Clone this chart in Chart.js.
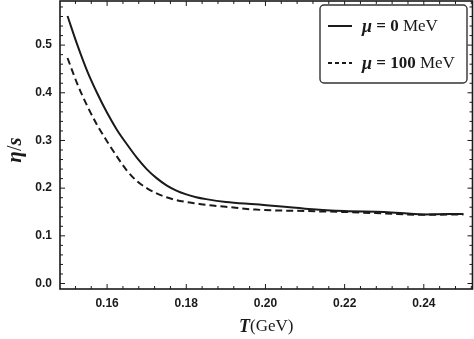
<!DOCTYPE html>
<html>
<head>
<meta charset="utf-8">
<script src="https://cdn.jsdelivr.net/npm/chart.js@4/dist/chart.umd.min.js"></script>
<style>
  html, body { margin: 0; padding: 0; background: #fff; }
  #wrap { width: 474px; height: 339px; }
</style>
</head>
<body>
<div id="wrap"><canvas id="viscosityChart" width="474" height="339"></canvas></div>
<script>
// eta/s against temperature (GeV) for the two chemical potentials
const temps = [0.150, 0.1525, 0.155, 0.1575, 0.160, 0.1625, 0.165, 0.1675, 0.170, 0.1725, 0.175, 0.1775, 0.180, 0.1825, 0.185, 0.190, 0.1975, 0.210, 0.220, 0.230, 0.240, 0.250];
const etaMu0 = [0.561, 0.500, 0.445, 0.399, 0.358, 0.322, 0.292, 0.264, 0.240, 0.221, 0.206, 0.195, 0.187, 0.181, 0.177, 0.171, 0.166, 0.157, 0.152, 0.150, 0.145, 0.146];
const etaMu100 = [0.473, 0.418, 0.372, 0.332, 0.298, 0.266, 0.237, 0.215, 0.200, 0.189, 0.181, 0.175, 0.171, 0.168, 0.165, 0.161, 0.155, 0.152, 0.150, 0.147, 0.144, 0.145];

const xTicks = [0.16, 0.18, 0.20, 0.22, 0.24];
const yTicks = [0.0, 0.1, 0.2, 0.3, 0.4, 0.5];

// legend text split into [text, font] pieces so mu can be italic
const legendParts = [
    [['\u03bc', 'bold italic 18px "Liberation Serif"'], [' = 0 ', 'bold 17px "Liberation Serif"'], ['MeV', '17px "Liberation Serif"']],
    [['\u03bc', 'bold italic 18px "Liberation Serif"'], [' = 100 ', 'bold 17px "Liberation Serif"'], ['MeV', '17px "Liberation Serif"']]
];

const ink = '#1a1a1a';

function drawPieces(ctx, pieces, x, y) {
    pieces.forEach(([txt, font]) => {
        ctx.font = font;
        ctx.fillText(txt, x, y);
        x += ctx.measureText(txt).width;
    });
    return x;
}

function piecesWidth(ctx, pieces) {
    let w = 0;
    pieces.forEach(([txt, font]) => { ctx.font = font; w += ctx.measureText(txt).width; });
    return w;
}

// frame, inward ticks on all four sides, axis titles and the legend box
const frameDecor = {
    id: 'frameDecor',
    afterDraw(chart) {
        const ctx = chart.ctx;
        const a = chart.chartArea;
        const xs = chart.scales.x, ys = chart.scales.y;
        ctx.save();
        ctx.strokeStyle = ink;

        ctx.lineWidth = 1;
        const tick = (x1, y1, x2, y2) => { ctx.beginPath(); ctx.moveTo(x1, y1); ctx.lineTo(x2, y2); ctx.stroke(); };
        for (let i = 0; i <= 30; i++) {
            const v = 0.148 + i * 0.004;
            if (v < xs.min || v > xs.max) continue;
            const major = Math.abs(((v - 0.16) / 0.02) - Math.round((v - 0.16) / 0.02)) < 1e-6;
            const len = major ? 5 : 3;
            const px = xs.getPixelForValue(v);
            tick(px, a.bottom, px, a.bottom - len);
            tick(px, a.top, px, a.top + len);
        }
        for (let i = 0; i <= 40; i++) {
            const v = -0.02 + i * 0.02;
            if (v < ys.min || v > ys.max) continue;
            const major = Math.abs(v * 10 - Math.round(v * 10)) < 1e-6;
            const len = major ? 5 : 3;
            const py = ys.getPixelForValue(v);
            tick(a.left, py, a.left + len, py);
            tick(a.right, py, a.right - len, py);
        }

        ctx.lineWidth = 1.6;
        ctx.strokeRect(a.left, a.top, a.right - a.left, a.bottom - a.top);

        // axis titles
        ctx.fillStyle = ink;
        ctx.textBaseline = 'middle';
        const xTitle = [['T', 'bold italic 18px "Liberation Serif"'], ['(GeV)', '17px "Liberation Serif"']];
        const xw = piecesWidth(ctx, xTitle);
        drawPieces(ctx, xTitle, (a.left + a.right) / 2 - xw / 2, 327);

        ctx.save();
        ctx.translate(16, 150);
        ctx.rotate(-Math.PI / 2);
        const yTitle = [['\u03b7', 'bold italic 21px "Liberation Serif"'], ['/', '20px "Liberation Serif"'], ['s', 'bold italic 21px "Liberation Serif"']];
        const yw = piecesWidth(ctx, yTitle);
        drawPieces(ctx, yTitle, -yw / 2, 0);
        ctx.restore();

        // legend
        const bx = 320, by = 5, bw = 147, bh = 78;
        ctx.fillStyle = '#fff';
        ctx.lineWidth = 1.4;
        ctx.strokeStyle = '#333';
        ctx.beginPath();
        ctx.roundRect(bx, by, bw, bh, 4);
        ctx.fill();
        ctx.stroke();

        const rows = [26, 63];
        chart.data.datasets.forEach((ds, i) => {
            const y = rows[i];
            ctx.strokeStyle = ds.borderColor;
            ctx.lineWidth = 2;
            ctx.setLineDash(i === 0 ? [] : [4, 3]);
            tick(328, y, 352, y);
            ctx.setLineDash([]);
            ctx.fillStyle = ink;
            drawPieces(ctx, legendParts[i], 362, y + 1);
        });
        ctx.restore();
    }
};

const lineData = (ys) => temps.map((t, i) => ({ x: t, y: ys[i] }));

new Chart(document.getElementById('viscosityChart').getContext('2d'), {
    type: 'line',
    data: {
        datasets: [
            {
                label: '\u03bc = 0 MeV',
                data: lineData(etaMu0),
                borderColor: ink,
                borderWidth: 2,
                pointRadius: 0,
                fill: false,
                cubicInterpolationMode: 'monotone'
            },
            {
                label: '\u03bc = 100 MeV',
                data: lineData(etaMu100),
                borderColor: ink,
                borderWidth: 2,
                borderDash: [7, 4],
                pointRadius: 0,
                fill: false,
                cubicInterpolationMode: 'monotone'
            }
        ]
    },
    options: {
        responsive: false,
        animation: false,
        layout: { padding: { top: 1, right: 1.5, left: 0, bottom: 0 } },
        plugins: {
            legend: { display: false },
            tooltip: { enabled: false }
        },
        scales: {
            x: {
                type: 'linear',
                min: 0.1481,
                max: 0.2523,
                afterFit: s => { s.height = 50; s.paddingLeft = 0; s.paddingRight = 0; },
                afterBuildTicks: s => { s.ticks = xTicks.map(v => ({ value: v })); },
                grid: { display: false, drawTicks: false },
                border: { display: false },
                ticks: {
                    padding: 7,
                    color: ink,
                    font: { family: '"Liberation Sans"', weight: 'bold', size: 12 },
                    callback: v => v.toFixed(2)
                }
            },
            y: {
                type: 'linear',
                min: -0.0115,
                max: 0.5925,
                afterFit: s => { s.width = 60; s.paddingTop = 0; s.paddingBottom = 0; },
                afterBuildTicks: s => { s.ticks = yTicks.map(v => ({ value: v })); },
                grid: { display: false, drawTicks: false },
                border: { display: false },
                ticks: {
                    padding: 8,
                    color: ink,
                    font: { family: '"Liberation Sans"', weight: 'bold', size: 12 },
                    callback: v => v.toFixed(1)
                }
            }
        }
    },
    plugins: [frameDecor]
});
</script>
</body>
</html>
